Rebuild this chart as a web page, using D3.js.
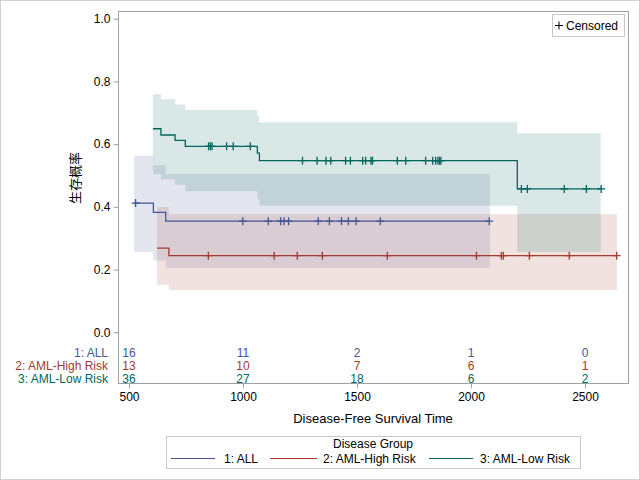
<!DOCTYPE html>
<html>
<head>
<meta charset="utf-8">
<script src="https://cdn.jsdelivr.net/npm/d3@7"></script>
<style>
body { margin: 0; background: #fff; }
text { font-family: "Liberation Sans", Arial, sans-serif; }
</style>
</head>
<body>
<svg width="640" height="480"></svg>
<script>
var groups = ["1: ALL", "2: AML-High Risk", "3: AML-Low Risk"];
var colors = ["#445694", "#A23A2E", "#01665E"];

// step curves: time where each level starts, survival level, band limits
var allTime  = [522, 607, 661];
var allSurv  = [0.412, 0.382, 0.354];
var allLower = [0.256, 0.229, 0.205];
var allUpper = [0.563, 0.533, 0.504];
var allEnd = 2080, allBandEnd = 2083;
var allCensor = [529, 999, 1111, 1165, 1180, 1200, 1330, 1379, 1432, 1462, 1496, 1602, 2080];

var highTime  = [623, 675];
var highSurv  = [0.268, 0.244];
var highLower = [0.151, 0.135];
var highUpper = [0.399, 0.376];
var highEnd = 2639, highBandEnd = 2640;
var highCensor = [848, 1137, 1238, 1348, 1633, 2024, 2133, 2142, 2256, 2431, 2639];

var lowTime  = [605, 640, 702, 747, 1063, 1072, 2203];
var lowSurv  = [0.649, 0.629, 0.612, 0.593, 0.571, 0.547, 0.457];
var lowLower = [0.504, 0.488, 0.470, 0.450, 0.425, 0.403, 0.256];
var lowUpper = [0.759, 0.743, 0.726, 0.709, 0.690, 0.670, 0.635];
var lowEnd = 2571, lowBandEnd = 2569;
var lowCensor = [849, 857, 864, 928, 957, 1032, 1261, 1325, 1364, 1385, 1450, 1471, 1525, 1538,
                 1561, 1568, 1677, 1714, 1801, 1832, 1845, 1855, 1862, 1868, 2221, 2247, 2409, 2506, 2571];

var riskTimes = [500, 1000, 1500, 2000, 2500];
var allRisk  = [16, 11, 2, 1, 0];
var highRisk = [13, 10, 7, 6, 1];
var lowRisk  = [36, 27, 18, 6, 2];

var yTicks = [0, 0.2, 0.4, 0.6, 0.8, 1.0];

var series = [
    {time: allTime, surv: allSurv, lower: allLower, upper: allUpper, end: allEnd, bandEnd: allBandEnd, censor: allCensor, risk: allRisk},
    {time: highTime, surv: highSurv, lower: highLower, upper: highUpper, end: highEnd, bandEnd: highBandEnd, censor: highCensor, risk: highRisk},
    {time: lowTime, surv: lowSurv, lower: lowLower, upper: lowUpper, end: lowEnd, bandEnd: lowBandEnd, censor: lowCensor, risk: lowRisk}
];

var svg = d3.select("svg");

var x = d3.scaleLinear().domain([500, 2500]).range([129, 585]);
var y = d3.scaleLinear().domain([0, 1]).range([332.2, 18.7]);

var frame = {left: 118, right: 628, top: 11, bottom: 383};

// outer border
svg.append("rect")
    .attr("x", 0.5).attr("y", 0.5).attr("width", 639).attr("height", 479)
    .attr("fill", "none").attr("stroke", "#d0d0d0");

function levelAt(s, t) {
    var v = s.surv[0];
    for (var i = 0; i < s.time.length; i++) {
        if (s.time[i] <= t) v = s.surv[i];
    }
    return v;
}

// bands
var area = d3.area()
    .x(function(d) { return x(d.t); })
    .y0(function(d) { return y(d.lo); })
    .y1(function(d) { return y(d.hi); })
    .curve(d3.curveStepAfter);

series.forEach(function(s, k) {
    var pts = s.time.map(function(t, i) { return {t: t, lo: s.lower[i], hi: s.upper[i]}; });
    var n = pts.length - 1;
    pts.push({t: s.bandEnd, lo: s.lower[n], hi: s.upper[n]});
    svg.append("path")
        .attr("d", area(pts))
        .attr("fill", colors[k])
        .attr("fill-opacity", 0.15);
});

// survival lines
var line = d3.line()
    .x(function(d) { return x(d.t); })
    .y(function(d) { return y(d.s); })
    .curve(d3.curveStepAfter);

series.forEach(function(s, k) {
    var pts = s.time.map(function(t, i) { return {t: t, s: s.surv[i]}; });
    pts.push({t: s.end, s: s.surv[s.surv.length - 1]});
    svg.append("path")
        .attr("d", line(pts))
        .attr("fill", "none")
        .attr("stroke", colors[k])
        .attr("stroke-width", 1.3);

    svg.append("g").selectAll("path")
        .data(s.censor)
        .enter()
            .append("path")
            .attr("d", function(t) {
                var cx = x(t), cy = y(levelAt(s, t));
                return "M" + (cx - 4) + "," + cy + "H" + (cx + 4) + "M" + cx + "," + (cy - 4) + "V" + (cy + 4);
            })
            .attr("stroke", colors[k])
            .attr("stroke-width", 1.3);
});

// frame
svg.append("rect")
    .attr("x", frame.left + 0.5).attr("y", frame.top + 0.5)
    .attr("width", frame.right - frame.left).attr("height", frame.bottom - frame.top)
    .attr("fill", "none").attr("stroke", "#a0a0a0");

// axes
var yAxis = svg.append("g")
    .attr("transform", "translate(" + (frame.left + 0.5) + ",0)")
    .call(d3.axisLeft(y).tickValues(yTicks).tickFormat(d3.format(".1f")).tickSize(5).tickPadding(3));
var xAxis = svg.append("g")
    .attr("transform", "translate(0," + (frame.bottom + 0.5) + ")")
    .call(d3.axisBottom(x).tickValues(riskTimes).tickFormat(d3.format("d")).tickSize(5).tickPadding(4));
[yAxis, xAxis].forEach(function(a) {
    a.select(".domain").remove();
    a.selectAll("line").attr("stroke", "#a0a0a0");
    a.selectAll("text").attr("fill", "#000").style("font-size", "12px")
        .style("font-family", "'Liberation Sans', Arial, sans-serif");
});

svg.append("text")
    .attr("transform", "translate(80,178) rotate(-90)")
    .attr("text-anchor", "middle")
    .style("font-family", "'Noto Sans CJK SC', sans-serif")
    .style("font-size", "13px")
    .text("生存概率");

svg.append("text")
    .attr("x", x(1500) + 16).attr("y", 423)
    .attr("text-anchor", "middle")
    .style("font-size", "13px")
    .text("Disease-Free Survival Time");

// at-risk table
var rowY = [352.7, 365.5, 378.5];
series.forEach(function(s, k) {
    svg.append("text")
        .attr("x", 108).attr("y", rowY[k] + 4)
        .attr("text-anchor", "end")
        .attr("fill", colors[k])
        .style("font-size", "12px")
        .text(groups[k]);
    svg.append("g").selectAll("text")
        .data(s.risk)
        .enter()
            .append("text")
            .attr("x", function(d, i) { return x(riskTimes[i]); })
            .attr("y", rowY[k] + 4)
            .attr("text-anchor", "middle")
            .attr("fill", colors[k])
            .style("font-size", "12px")
            .text(function(d) { return d; });
});

// censored legend
svg.append("rect")
    .attr("x", 552.5).attr("y", 14.5).attr("width", 72).attr("height", 22)
    .attr("fill", "#fff").attr("stroke", "#c8c8c8");
svg.append("path")
    .attr("d", "M555,25.5H563M559,21.5V29.5")
    .attr("stroke", "#000").attr("stroke-width", 1);
svg.append("text")
    .attr("x", 566).attr("y", 30)
    .style("font-size", "12px")
    .text("Censored");

// group legend
svg.append("rect")
    .attr("x", 166.5).attr("y", 436.5).attr("width", 414).attr("height", 32)
    .attr("fill", "none").attr("stroke", "#c8c8c8");
svg.append("text")
    .attr("x", 373).attr("y", 448)
    .attr("text-anchor", "middle")
    .style("font-size", "12px")
    .text("Disease Group");
var legendLine = [[171, 215, 224], [270, 317, 323], [429, 473, 480]];
groups.forEach(function(g, k) {
    svg.append("line")
        .attr("x1", legendLine[k][0]).attr("x2", legendLine[k][1])
        .attr("y1", 458.5).attr("y2", 458.5)
        .attr("stroke", colors[k]).attr("stroke-width", 1);
    svg.append("text")
        .attr("x", legendLine[k][2]).attr("y", 463)
        .style("font-size", "12px")
        .text(g);
});
</script>
</body>
</html>
